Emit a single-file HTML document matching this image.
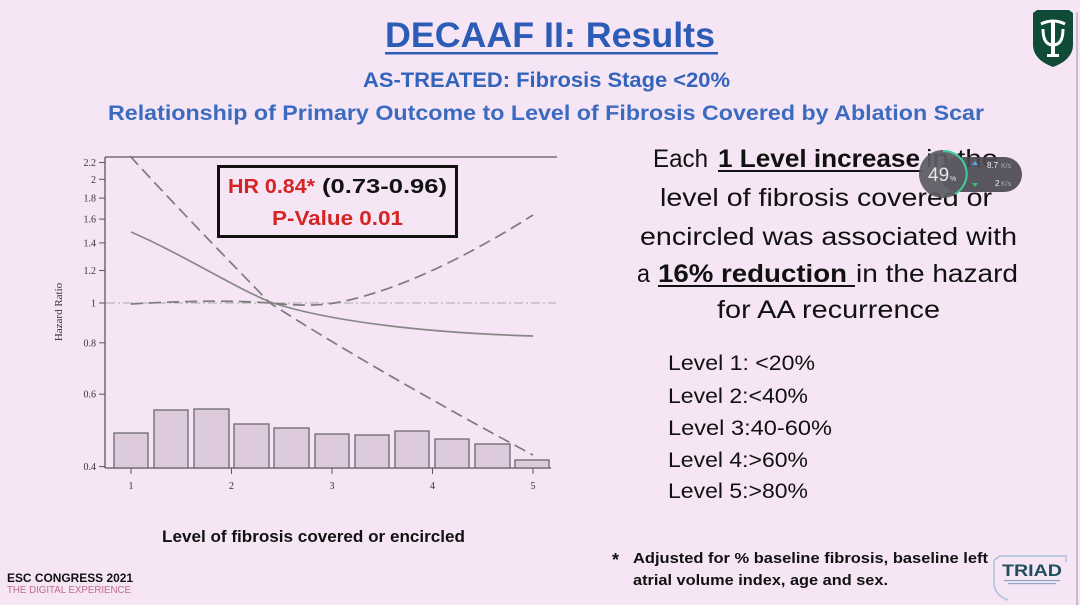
<!DOCTYPE html>
<html><head><meta charset="utf-8"><style>
html,body{margin:0;padding:0;background:#f6e6f5;}
svg{display:block;}
</style></head><body>
<svg width="1080" height="605" viewBox="0 0 1080 605" xmlns="http://www.w3.org/2000/svg">
<rect width="1080" height="605" fill="#f6e6f5"/>
<line x1="1077" y1="12" x2="1077" y2="605" stroke="#cbbccb" stroke-width="2"/>

<!-- Title -->
<g font-family="'Liberation Sans', sans-serif" font-weight="bold">
<text x="385" y="47" font-size="35" fill="#2c5cb6" textLength="330" lengthAdjust="spacingAndGlyphs">DECAAF II: Results</text>
<rect x="385" y="52" width="333" height="2.5" fill="#2c5cb6"/>
<text x="363" y="87" font-size="21" fill="#3264bc" textLength="367" lengthAdjust="spacingAndGlyphs">AS-TREATED: Fibrosis Stage &lt;20%</text>
<text x="108" y="120" font-size="21" fill="#3a6bc0" textLength="876" lengthAdjust="spacingAndGlyphs">Relationship of Primary Outcome to Level of Fibrosis Covered by Ablation Scar</text>
</g>

<!-- Tulane logo -->
<g>
<path d="M1033,13 L1037,10 L1069,10 L1073,13 L1073,46 Q1072,60 1053,67 Q1034,60 1033,46 Z" fill="#0f4b36"/>
<path d="M1041,24 Q1053,18 1065,24" stroke="#fff" stroke-width="3" fill="none"/>
<path d="M1043,29 Q1043,45 1053,45 Q1063,45 1063,29" stroke="#fff" stroke-width="3" fill="none"/>
<rect x="1051" y="21" width="4" height="35" fill="#fff"/>
<rect x="1047" y="54" width="12" height="3" fill="#fff"/>
</g>

<!-- Chart -->
<g stroke="#5a5a5a" stroke-width="1.3" fill="none">
<line x1="105" y1="157" x2="557" y2="157"/>
<line x1="105" y1="157" x2="105" y2="468"/>
<line x1="105" y1="468" x2="551" y2="468"/>
</g>
<!-- bars -->
<g fill="#ddcadd" stroke="#6c686c" stroke-width="1.3">
<rect x="114" y="433" width="34" height="35"/>
<rect x="154" y="410" width="34" height="58"/>
<rect x="194" y="409" width="35" height="59"/>
<rect x="234" y="424" width="35" height="44"/>
<rect x="274" y="428" width="35" height="40"/>
<rect x="315" y="434" width="34" height="34"/>
<rect x="355" y="435" width="34" height="33"/>
<rect x="395" y="431" width="34" height="37"/>
<rect x="435" y="439" width="34" height="29"/>
<rect x="475" y="444" width="35" height="24"/>
<rect x="515" y="460" width="34" height="8"/>
</g>
<!-- y ticks -->
<g stroke="#5a5a5a" stroke-width="1">
<line x1="99" y1="162.5" x2="105" y2="162.5"/>
<line x1="99" y1="179.3" x2="105" y2="179.3"/>
<line x1="99" y1="198.1" x2="105" y2="198.1"/>
<line x1="99" y1="219.1" x2="105" y2="219.1"/>
<line x1="99" y1="242.9" x2="105" y2="242.9"/>
<line x1="99" y1="270.5" x2="105" y2="270.5"/>
<line x1="99" y1="303" x2="105" y2="303"/>
<line x1="99" y1="342.8" x2="105" y2="342.8"/>
<line x1="99" y1="394.2" x2="105" y2="394.2"/>
<line x1="99" y1="466.6" x2="105" y2="466.6"/>
<line x1="131" y1="468" x2="131" y2="474"/>
<line x1="231.5" y1="468" x2="231.5" y2="474"/>
<line x1="332" y1="468" x2="332" y2="474"/>
<line x1="432.5" y1="468" x2="432.5" y2="474"/>
<line x1="533" y1="468" x2="533" y2="474"/>
</g>
<g font-family="'Liberation Serif', serif" font-size="10" fill="#333" text-anchor="end">
<text x="96" y="166">2.2</text>
<text x="96" y="182.8">2</text>
<text x="96" y="201.6">1.8</text>
<text x="96" y="222.6">1.6</text>
<text x="96" y="246.4">1.4</text>
<text x="96" y="274">1.2</text>
<text x="96" y="306.5">1</text>
<text x="96" y="346.3">0.8</text>
<text x="96" y="397.7">0.6</text>
<text x="96" y="470">0.4</text>
</g>
<g font-family="'Liberation Serif', serif" font-size="10" fill="#333" text-anchor="middle">
<text x="131" y="489">1</text>
<text x="231.5" y="489">2</text>
<text x="332" y="489">3</text>
<text x="432.5" y="489">4</text>
<text x="533" y="489">5</text>
<text transform="translate(62,312) rotate(-90)" font-size="11">Hazard Ratio</text>
</g>
<!-- reference line -->
<line x1="106" y1="303" x2="556" y2="303" stroke="#aaa" stroke-width="1" stroke-dasharray="9,3,2,3"/>
<!-- curves -->
<path d="M131,232 C180,253 230,285 270,302 C330,322 430,333 533,336" stroke="#888" stroke-width="1.7" fill="none"/>
<path d="M131,304 C180,301 230,300 270,303 C300,306 320,306 340,302 C400,290 470,255 533,215" stroke="#7c7c7c" stroke-width="1.7" fill="none" stroke-dasharray="12,6"/>
<path d="M130,156 C170,200 230,262 270,303 C330,342 430,400 533,455" stroke="#7c7c7c" stroke-width="1.7" fill="none" stroke-dasharray="12,6"/>

<!-- HR box -->
<rect x="218.5" y="166.5" width="238" height="70" fill="#f6e6f5" stroke="#111" stroke-width="3"/>
<g font-family="'Liberation Sans', sans-serif" font-weight="bold" font-size="20">
<text x="228" y="193" fill="#d42424" textLength="87" lengthAdjust="spacingAndGlyphs">HR 0.84*</text>
<text x="322" y="193" fill="#111" textLength="125" lengthAdjust="spacingAndGlyphs">(0.73-0.96)</text>
<text x="272" y="225" fill="#d42424" textLength="131" lengthAdjust="spacingAndGlyphs">P-Value 0.01</text>
</g>

<!-- x axis title -->
<text x="162" y="542" font-family="'Liberation Sans', sans-serif" font-weight="bold" font-size="17" fill="#111" textLength="303" lengthAdjust="spacingAndGlyphs">Level of fibrosis covered or encircled</text>

<!-- Right text -->
<g font-family="'Liberation Sans', sans-serif" font-size="25" fill="#111">
<text x="653" y="167" textLength="55" lengthAdjust="spacingAndGlyphs">Each</text>
<text x="718" y="167" font-weight="bold" textLength="202" lengthAdjust="spacingAndGlyphs">1 Level increase</text>
<rect x="718" y="170" width="204" height="2" fill="#111"/>
<text x="926" y="167" textLength="72" lengthAdjust="spacingAndGlyphs">in the</text>
<text x="660" y="206" textLength="332" lengthAdjust="spacingAndGlyphs">level of fibrosis covered or</text>
<text x="640" y="245" textLength="377" lengthAdjust="spacingAndGlyphs">encircled was associated with</text>
<text x="637" y="282" textLength="13" lengthAdjust="spacingAndGlyphs">a</text>
<text x="658" y="282" font-weight="bold" textLength="189" lengthAdjust="spacingAndGlyphs">16% reduction</text>
<rect x="658" y="285" width="197" height="2" fill="#111"/>
<text x="856" y="282" textLength="162" lengthAdjust="spacingAndGlyphs">in the hazard</text>
<text x="717" y="318" textLength="223" lengthAdjust="spacingAndGlyphs">for AA recurrence</text>
</g>
<g font-family="'Liberation Sans', sans-serif" font-size="21" fill="#111">
<text x="668" y="370" textLength="147" lengthAdjust="spacingAndGlyphs">Level 1: &lt;20%</text>
<text x="668" y="403" textLength="140" lengthAdjust="spacingAndGlyphs">Level 2:&lt;40%</text>
<text x="668" y="435" textLength="164" lengthAdjust="spacingAndGlyphs">Level 3:40-60%</text>
<text x="668" y="467" textLength="140" lengthAdjust="spacingAndGlyphs">Level 4:&gt;60%</text>
<text x="668" y="498" textLength="140" lengthAdjust="spacingAndGlyphs">Level 5:&gt;80%</text>
</g>

<!-- footnote -->
<g font-family="'Liberation Sans', sans-serif" font-weight="bold" font-size="15" fill="#111">
<text x="612" y="566" font-size="18">*</text>
<text x="633" y="563" textLength="355" lengthAdjust="spacingAndGlyphs">Adjusted for % baseline fibrosis, baseline left</text>
<text x="633" y="585" textLength="255" lengthAdjust="spacingAndGlyphs">atrial volume index, age and sex.</text>
</g>

<!-- TRIAD logo -->
<g>
<path d="M994,560 L1000,556 L1066,556 L1066,562" stroke="#a9c0dc" stroke-width="1.5" fill="none"/>
<path d="M994,560 L994,585 Q996,596 1008,600" stroke="#a9c0dc" stroke-width="1.5" fill="none"/>
<text x="1002" y="576" font-family="'Liberation Sans', sans-serif" font-weight="bold" font-size="17" fill="#1f4f5e" textLength="60" lengthAdjust="spacingAndGlyphs">TRIAD</text>
<rect x="1004" y="580" width="56" height="1.2" fill="#8aa6c6"/>
<rect x="1008" y="583" width="48" height="1.2" fill="#8aa6c6"/>
</g>

<!-- ESC footer -->
<text x="7" y="582" font-family="'Liberation Sans', sans-serif" font-weight="bold" font-size="12" fill="#111" textLength="126" lengthAdjust="spacingAndGlyphs">ESC CONGRESS 2021</text>
<text x="7" y="593" font-family="'Liberation Sans', sans-serif" font-size="10.5" fill="#c06b8a" textLength="124" lengthAdjust="spacingAndGlyphs">THE DIGITAL EXPERIENCE</text>

<!-- overlay widget -->
<g>
<rect x="940" y="157" width="82" height="35" rx="17.5" fill="#4b4a52" opacity="0.92"/>
<circle cx="943" cy="174" r="24" fill="#5b5a62" opacity="0.93"/>
<path d="M943,151 A23,23 0 0 1 955,194" stroke="#3fcf9f" stroke-width="2" fill="none"/>
<text x="928" y="181" font-family="'Liberation Sans', sans-serif" font-size="19" fill="#e6e6e6">49</text>
<text x="950" y="181" font-family="'Liberation Sans', sans-serif" font-size="7" fill="#e6e6e6">%</text>
<line x1="972" y1="175" x2="1016" y2="175" stroke="#666" stroke-width="0.6" stroke-dasharray="1,1"/>
<path d="M975,161 L978,165 L972,165 Z" fill="#5ca0f0"/>
<path d="M975,187 L978,183 L972,183 Z" fill="#3cc060"/>
<text x="987" y="168" font-family="'Liberation Sans', sans-serif" font-size="8" fill="#eee">8.7</text>
<text x="1001" y="168" font-family="'Liberation Sans', sans-serif" font-size="7" fill="#aaa">K/s</text>
<text x="995" y="186" font-family="'Liberation Sans', sans-serif" font-size="8" fill="#eee">2</text>
<text x="1001" y="186" font-family="'Liberation Sans', sans-serif" font-size="7" fill="#aaa">K/s</text>
</g>
</svg>
</body></html>
